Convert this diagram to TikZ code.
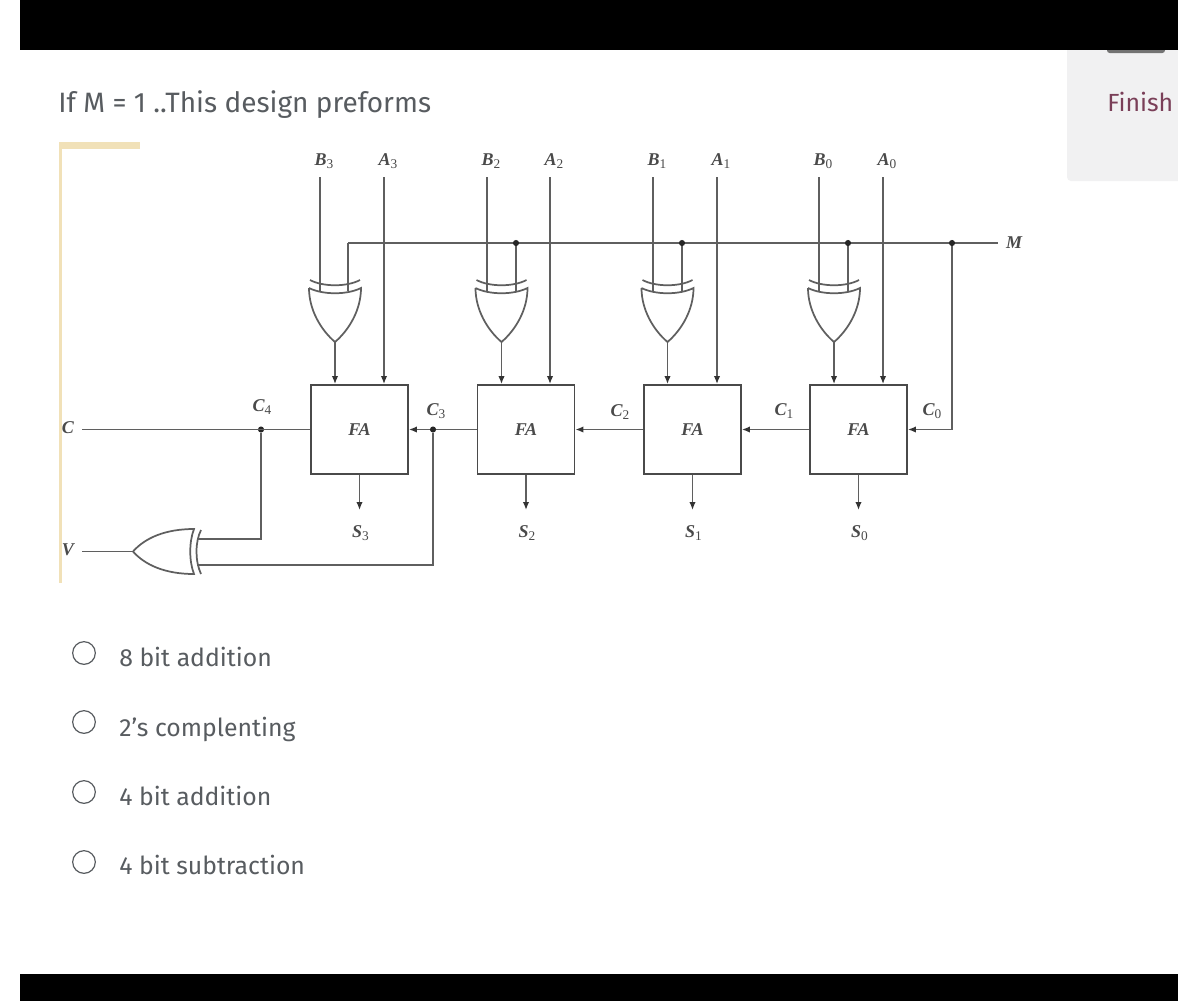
\documentclass[tikz,border=0pt]{standalone}
\usepackage{fontspec}
\setmainfont{Fira Sans}
\newfontfamily\lblfont{Liberation Serif}
\usetikzlibrary{arrows.meta,calc}
\definecolor{wire}{HTML}{5F5F5F}
\definecolor{ink}{HTML}{4A4A4A}
\definecolor{uitext}{HTML}{585C60}
\definecolor{frameyellow}{HTML}{F1E1B8}
\definecolor{sidegray}{HTML}{F1F1F2}
\definecolor{finishred}{HTML}{7A3F58}
\newcommand{\sublabel}[2]{{\lblfont\bfseries\itshape #1}\raisebox{-2.5pt}{\lblfont\fontsize{10}{10}\selectfont #2}}
\tikzset{
  wireline/.style={draw=wire,line width=1.1pt},
  arrowline/.style={wireline,-{Latex[length=6pt,width=4.8pt,color=black!80]}},
  gateline/.style={draw=wire,line width=1.3pt},
  joint/.style={circle,fill=black!85,inner sep=0pt,minimum size=4.6pt},
  fabox/.style={draw=ink,line width=1.4pt,inner sep=0pt,minimum width=72.75pt,minimum height=66.75pt,
    text=ink,font=\lblfont\bfseries\itshape\fontsize{13.5}{14}\selectfont},
  sig/.style={text=ink,inner sep=0pt,font=\fontsize{13.5}{14}\selectfont},
  uilabel/.style={text=uitext,inner sep=0pt,anchor=base west,font=\fontsize{18.6}{20}\selectfont},
  heading/.style={text=uitext,inner sep=0pt,anchor=base west,font=\fontsize{21}{24}\selectfont},
  radio/.style={circle,draw=uitext,line width=0.9pt,inner sep=0pt,minimum size=17pt},
}
\begin{document}
\begin{tikzpicture}[x=0.75pt,y=-0.75pt]
\useasboundingbox (0,0) rectangle (1178,1001);
% page furniture
\fill[white] (0,0) rectangle (1178,1001);
\fill[sidegray,rounded corners=3pt] (1067,30) rectangle (1190,181);
\fill[black!55,rounded corners=2pt] (1107,40) rectangle (1165,53);
\fill[black] (20,0) rectangle (1178,50);
\fill[black] (20,974) rectangle (1178,1001);
\fill[frameyellow] (59,142) rectangle (62,583);
\fill[frameyellow] (59,142) rectangle (140,149);
\node[heading] (question) at (58,112) {If M = 1 ..This design preforms};
\node[text=finishred,inner sep=0pt,anchor=base west,font=\fontsize{18.6}{20}\selectfont] (finish) at (1107,111) {Finish};
% answers
\node[radio] (r1) at (84,653) {};
\node[radio] (r2) at (84,722) {};
\node[radio] (r3) at (84,792) {};
\node[radio] (r4) at (84,862) {};
\node[uilabel] (t1) at (119,666) {8 bit addition};
\node[uilabel] (t2) at (119,736) {2's complenting};
\node[uilabel] (t3) at (119,805) {4 bit addition};
\node[uilabel] (t4) at (119,874) {4 bit subtraction};
% named rails
\coordinate (mend) at (998,243);
\coordinate (mhub) at (952,243);
\node[sig,font=\lblfont\bfseries\itshape\fontsize{13.5}{14}\selectfont] (mlabel) at (1014,243) {M};
% slices
\foreach \i/\cx/\bx/\ax/\mx/\bc in {3/335/320/384/348/359.5,2/501.5/487/550/516/526,1/667.5/653/717/682/692.5,0/834/819/883/848/858.5}{
  \node[fabox] (fa\i) at (\bc,429.5) {FA};
  \coordinate (btop\i) at (\bx,177);
  \coordinate (atop\i) at (\ax,177);
  \coordinate (bin\i) at (\bx,291);
  \coordinate (min\i) at (\mx,291);
  \coordinate (mtap\i) at (\mx,243);
  \coordinate (gout\i) at (\cx,342);
  \node[sig] (lb\i) at (\bx+4,161) {\sublabel{B}{\i}};
  \node[sig] (la\i) at (\ax+4,161) {\sublabel{A}{\i}};
  \node[sig] (ls\i) at (\bc+1,533) {\sublabel{S}{\i}};
  \coordinate (sout\i) at (\bc,510);
  \draw[wireline] (btop\i) -- (bin\i);
  \draw[arrowline] (atop\i) -- (atop\i |- fa\i.north);
  \draw[wireline] (mtap\i) -- (min\i);
  \draw[gateline] (\cx-26,288) .. controls (\cx-12,295) and (\cx+12,295) .. (\cx+26,288)
     .. controls (\cx+26,310) and (\cx+14,330) .. (gout\i)
     .. controls (\cx-14,330) and (\cx-26,310) .. (\cx-26,288);
  \draw[gateline] (\cx-25,280) .. controls (\cx-12,287) and (\cx+12,287) .. (\cx+25,280);
  \draw[arrowline] (gout\i) -- (gout\i |- fa\i.north);
  \draw[arrowline] (fa\i.south) -- (sout\i);
}
% M bus
\draw[wireline] (mtap3) -- (mend);
\node[joint] (j2) at (mtap2) {};
\node[joint] (j1) at (mtap1) {};
\node[joint] (j0) at (mtap0) {};
\node[joint] (jm) at (mhub) {};
% carries
\draw[arrowline] (jm) |- (fa0.east);
\draw[arrowline] (fa0.west) -- (fa1.east);
\draw[arrowline] (fa1.west) -- (fa2.east);
\draw[arrowline] (fa2.west) -- (fa3.east);
\node[joint] (jc3) at (433,429.5) {};
\node[joint] (jc4) at (261,429.5) {};
\node[sig] (clabel) at (68,429) {\sublabel{C}{}};
\coordinate (cout) at (82,429.5);
\draw[wireline] (fa3.west) -- (cout);
\node[sig] (c4) at (262,407) {\sublabel{C}{4}};
\node[sig] (c3) at (436,411) {\sublabel{C}{3}};
\node[sig] (c2) at (620,412) {\sublabel{C}{2}};
\node[sig] (c1) at (784,411) {\sublabel{C}{1}};
\node[sig] (c0) at (932,411) {\sublabel{C}{0}};
% overflow gate
\coordinate (vtip) at (133,551.5);
\coordinate (vin1) at (197,539);
\coordinate (vin2) at (197,565);
\coordinate (vout) at (82,551.5);
\node[sig] (vlabel) at (68,551) {\sublabel{V}{}};
\draw[wireline] (vtip) -- (vout);
\draw[wireline] (jc4) |- (vin1);
\draw[wireline] (jc3) |- (vin2);
\draw[gateline] (vtip) .. controls (145,538) and (165,529) .. (194,529)
   .. controls (189,542) and (189,561) .. (194,574)
   .. controls (165,574) and (145,565) .. (vtip);
\draw[gateline] (201,530) .. controls (195,542) and (195,561) .. (201,574);
\end{tikzpicture}
\end{document}
